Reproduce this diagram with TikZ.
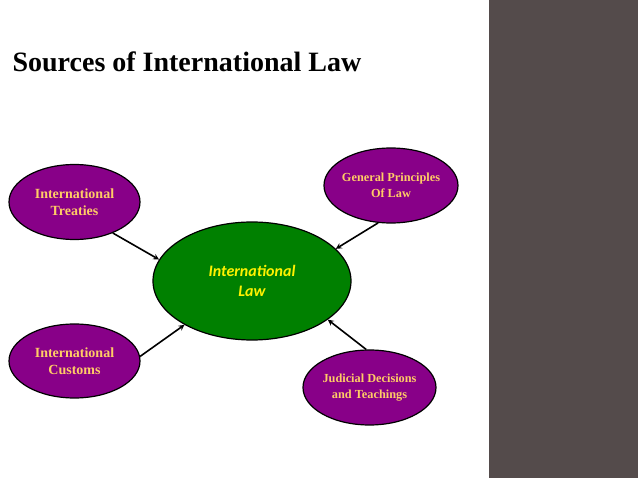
\documentclass[tikz,border=0pt]{standalone}
\usepackage{fontspec}
\setmainfont{Liberation Serif}
\newfontfamily\calibri{Carlito}
\usetikzlibrary{shapes.geometric}
\definecolor{sidegray}{RGB}{84,75,75}
\definecolor{srcpurple}{RGB}{136,0,136}
\definecolor{lawgreen}{RGB}{0,128,0}
\definecolor{srctext}{RGB}{255,204,102}
\tikzset{
  source/.style={ellipse, draw=black, fill=srcpurple, text=srctext, inner xsep=-20pt, inner ysep=-6pt,
    minimum width=131pt, minimum height=75pt, align=center,
    font=\fontsize{14}{17.5}\selectfont\bfseries},
  small/.style={font=\fontsize{12.3}{16}\selectfont\bfseries},
  centre/.style={ellipse, draw=black, fill=lawgreen, text=yellow, inner sep=-10pt,
    minimum width=198pt, minimum height=118pt, align=center,
    font=\calibri\fontsize{16}{20}\selectfont\bfseries\itshape}
}
\begin{document}
\begin{tikzpicture}[>=stealth, x=1pt, y=-1pt, line width=1.2pt]
  \useasboundingbox (0,0) rectangle (638,478);
  \fill[sidegray] (489,0) rectangle (638,478); % side band
  \node[anchor=base west, inner sep=0pt, font=\fontsize{28}{32}\selectfont\bfseries] (title) at (12,72) {Sources of International Law};
  \node[centre] (law) at (252,281) {International\\Law};
  \node[source] (treaties) at (74.5,202) {International\\Treaties};
  \node[source, small, minimum width=134pt] (principles) at (391,185.5) {General Principles\\Of Law};
  \node[source, minimum height=74pt] (customs) at (74.5,361) {International\\Customs};
  \node[source, small, minimum width=133pt] (judicial) at (369.5,387.5) {Judicial Decisions\\and Teachings};
  \draw[->, line width=1.6pt] (treaties.-39) -- (law.167);
  \draw[->, line width=1.6pt] (principles.-109) -- (law.21);
  \draw[->, line width=1.6pt] (customs.4.5) -- (law.-147);
  \draw[->, line width=1.6pt] (judicial.95) -- (law.-27);
\end{tikzpicture}
\end{document}
